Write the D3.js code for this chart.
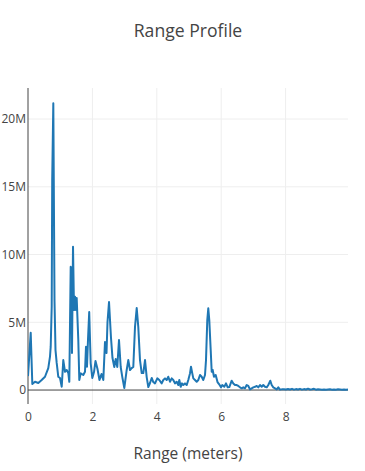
<!DOCTYPE html>
<html>
<head>
<meta charset="utf-8">
<script src="https://cdn.jsdelivr.net/npm/d3@7"></script>
<style>
  html, body { margin: 0; padding: 0; background: #fff; }
  svg { display: block; }
  text { font-family: "Open Sans", verdana, arial, sans-serif; fill: #444; }
</style>
</head>
<body>
<svg id="chart" width="365" height="471"></svg>
<script>
// ---- Data ----
const chartTitle = "Range Profile";
const xAxisTitle = "Range (meters)";
const xTicks = [0, 2, 4, 6, 8];
const yTicks = [0, 5e6, 10e6, 15e6, 20e6];
const yTickLabels = ["0", "5M", "10M", "15M", "20M"];

// range in meters
const rangeMeters = [
  0, 0.084, 0.134, 0.217, 0.320, 0.425, 0.528, 0.630, 0.683, 0.705,
  0.736, 0.752, 0.786, 0.823, 0.854, 0.891, 0.941, 0.994, 1.047, 1.096,
  1.149, 1.202, 1.252, 1.283, 1.326, 1.357, 1.366, 1.398, 1.429, 1.460,
  1.491, 1.512, 1.562, 1.593, 1.637, 1.717, 1.770, 1.801, 1.832, 1.863,
  1.901, 1.947, 1.997, 2.050, 2.096, 2.158, 2.220, 2.283, 2.339, 2.391,
  2.438, 2.469, 2.516, 2.578, 2.624, 2.680, 2.724, 2.773, 2.826, 2.879,
  2.929, 2.991, 3.065, 3.115, 3.168, 3.220, 3.270, 3.323, 3.376, 3.425,
  3.478, 3.531, 3.581, 3.634, 3.686, 3.736, 3.789, 3.842, 3.891, 3.944,
  4.016, 4.078, 4.152, 4.202, 4.255, 4.307, 4.357, 4.410, 4.463, 4.512,
  4.565, 4.618, 4.668, 4.699, 4.742, 4.783, 4.823, 4.876, 4.929, 4.978,
  5.031, 5.062, 5.102, 5.134, 5.186, 5.239, 5.289, 5.342, 5.394, 5.444,
  5.497, 5.528, 5.568, 5.599, 5.630, 5.674, 5.705, 5.736, 5.776, 5.829,
  5.885, 5.932, 5.994, 6.034, 6.096, 6.149, 6.202, 6.252, 6.326, 6.376,
  6.429, 6.481, 6.531, 6.584, 6.637, 6.686, 6.739, 6.792, 6.842, 6.894,
  6.947, 6.997, 7.050, 7.102, 7.152, 7.205, 7.258, 7.307, 7.360, 7.413,
  7.463, 7.525, 7.568, 7.618, 7.671, 7.724, 7.773, 7.826, 7.879, 7.950,
  8.012, 8.075, 8.137, 8.199, 8.261, 8.323, 8.385, 8.447, 8.509, 8.571,
  8.634, 8.696, 8.758, 8.820, 8.882, 8.944, 9.006, 9.068, 9.130, 9.193,
  9.255, 9.317, 9.379, 9.441, 9.503, 9.565, 9.627, 9.689, 9.752, 9.814,
  9.876, 9.938
];

// magnitude in millions
const magnitudeM = [
  1.03, 4.23, 0.44, 0.61, 0.52, 0.74, 0.98, 1.62, 2.46, 3.20,
  6.15, 15.5, 21.16, 6.6, 2.95, 2.00, 0.98, 0.89, 0.24, 2.21,
  1.35, 1.48, 1.25, 0.61, 9.10, 8.63, 2.73, 10.58, 5.90, 6.89,
  5.90, 6.79, 3.69, 0.74, 1.23, 1.11, 1.35, 3.20, 1.72, 3.69,
  5.76, 1.97, 0.89, 1.33, 2.14, 1.55, 0.74, 1.18, 0.74, 3.54,
  2.73, 5.02, 6.49, 3.84, 2.36, 1.70, 2.29, 1.70, 3.69, 1.70,
  0.96, 0.15, 1.48, 2.21, 1.48, 1.62, 1.70, 4.65, 6.05, 4.65,
  2.21, 1.25, 1.25, 2.21, 0.96, 0.22, 0.52, 0.89, 0.59, 0.49,
  0.86, 0.74, 0.49, 0.74, 0.86, 0.74, 0.98, 0.61, 0.86, 0.74,
  0.49, 0.61, 0.37, 0.74, 0.24, 0.49, 0.37, 0.49, 0.37, 0.74,
  1.23, 1.72, 1.23, 0.86, 0.74, 0.61, 0.74, 1.11, 0.98, 0.74,
  1.11, 2.21, 5.17, 6.03, 5.17, 2.95, 1.35, 1.48, 0.98, 1.11,
  0.59, 0.44, 0.20, 0.37, 0.24, 0.49, 0.20, 0.22, 0.69, 0.49,
  0.37, 0.37, 0.30, 0.20, 0.13, 0.20, 0.13, 0.37, 0.30, 0.05,
  0.13, 0.20, 0.24, 0.30, 0.20, 0.37, 0.24, 0.37, 0.24, 0.20,
  0.37, 0.69, 0.37, 0.20, 0.13, 0.05, 0.20, 0.03, 0.05, 0.05,
  0.04, 0.07, 0.04, 0.09, 0.03, 0.07, 0.04, 0.09, 0.03, 0.07,
  0.04, 0.10, 0.04, 0.06, 0.09, 0.03, 0.05, 0.04, 0.03, 0.04,
  0.03, 0.04, 0.05, 0.03, 0.04, 0.03, 0.05, 0.04, 0.03, 0.04,
  0.03, 0.04
];

// ---- Layout ----
const W = 365, H = 471;
const plot = { left: 28, right: 348, top: 88, bottom: 404 };

const svg = d3.select("#chart");

const x = d3.scaleLinear().domain([0, 9.938]).range([plot.left, plot.right]);
const y = d3.scaleLinear().domain([-1.03e6, 22.29e6]).range([plot.bottom, plot.top]);

const data = rangeMeters.map((r, i) => ({ r, v: magnitudeM[i] * 1e6 }));

// grid lines
const grid = svg.append("g");
grid.selectAll("line.gx").data(xTicks.filter(d => d !== 0)).join("line")
  .attr("x1", d => x(d)).attr("x2", d => x(d))
  .attr("y1", plot.top).attr("y2", plot.bottom)
  .attr("stroke", "#eee").attr("stroke-width", 1);
grid.selectAll("line.gy").data(yTicks.filter(d => d !== 0)).join("line")
  .attr("x1", plot.left).attr("x2", plot.right)
  .attr("y1", d => y(d)).attr("y2", d => y(d))
  .attr("stroke", "#eee").attr("stroke-width", 1);

// zero lines
svg.append("line")
  .attr("x1", x(0)).attr("x2", x(0)).attr("y1", plot.top).attr("y2", plot.bottom)
  .attr("stroke", "#444").attr("stroke-width", 1);
svg.append("line")
  .attr("x1", plot.left).attr("x2", plot.right).attr("y1", y(0)).attr("y2", y(0))
  .attr("stroke", "#444").attr("stroke-width", 1);

// data line
svg.append("clipPath").attr("id", "clip").append("rect")
  .attr("x", plot.left).attr("y", plot.top)
  .attr("width", plot.right - plot.left).attr("height", plot.bottom - plot.top);

svg.append("path")
  .datum(data)
  .attr("clip-path", "url(#clip)")
  .attr("fill", "none")
  .attr("stroke", "#1f77b4")
  .attr("stroke-width", 2)
  .attr("stroke-linejoin", "round")
  .attr("d", d3.line().x(d => x(d.r)).y(d => y(d.v)));

// axes (labels only, plotly style)
const xAxis = d3.axisBottom(x).tickValues(xTicks).tickSize(0).tickPadding(0).tickFormat(d3.format("d"));
const gx = svg.append("g").attr("transform", `translate(0,${plot.bottom})`).call(xAxis);
gx.select(".domain").remove();
gx.selectAll("text").attr("font-size", 12).attr("fill", "#444")
  .attr("font-family", '"Open Sans", verdana, arial, sans-serif')
  .attr("dy", null).attr("y", 17);

const yAxis = d3.axisLeft(y).tickValues(yTicks).tickSize(0).tickPadding(0)
  .tickFormat((d, i) => yTickLabels[i]);
const gy = svg.append("g").attr("transform", `translate(${plot.left - 2},0)`).call(yAxis);
gy.select(".domain").remove();
gy.selectAll("text").attr("font-size", 12).attr("fill", "#444")
  .attr("font-family", '"Open Sans", verdana, arial, sans-serif');

// titles
svg.append("text")
  .attr("x", (plot.left + plot.right) / 2).attr("y", 37)
  .attr("text-anchor", "middle").attr("font-size", 17.6)
  .text(chartTitle);

svg.append("text")
  .attr("x", (plot.left + plot.right) / 2).attr("y", 459)
  .attr("text-anchor", "middle").attr("font-size", 15.5)
  .text(xAxisTitle);
</script>
</body>
</html>
